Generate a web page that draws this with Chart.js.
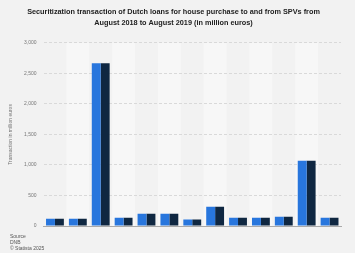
<!DOCTYPE html>
<html><head><meta charset="utf-8">
<script src="https://cdn.jsdelivr.net/npm/chart.js@4"></script>
<style>html,body{margin:0;padding:0;background:#f2f2f2;}#w{width:355px;height:253px;position:relative;}</style>
</head><body><div id="w"><canvas id="c"></canvas></div>
<script>
const categories = ["Aug 2018","Sep 2018","Oct 2018","Nov 2018","Dec 2018","Jan 2019","Feb 2019","Mar 2019","Apr 2019","May 2019","Jun 2019","Jul 2019","Aug 2019"];
const seriesA = [120, 120, 2665, 136, 200, 200, 108, 316, 136, 136, 152, 1070, 136];
const seriesB = [120, 120, 2665, 136, 200, 200, 108, 316, 136, 136, 152, 1070, 136];
const yTicks = [0, 500, 1000, 1500, 2000, 2500, 3000];
const titleLines = ["Securitization transaction of Dutch loans for house purchase to and from SPVs from", "August 2018 to August 2019 (in million euros)"];
const sourceLines = ["Source", "DNB", "\u00a9 Statista 2025"];

const bands = {
  id: 'bands',
  beforeDraw(chart) {
    const {ctx, chartArea: a} = chart;
    ctx.save();
    ctx.fillStyle = '#f2f2f2';
    ctx.fillRect(0, 0, chart.width, chart.height);
    const w = (a.right - a.left) / categories.length;
    ctx.fillStyle = '#f7f7f7';
    categories.forEach((c, i) => {
      if (i % 2 === 1) ctx.fillRect(a.left + i * w, a.top, w, a.bottom - a.top);
    });
    ctx.restore();
  },
  afterDraw(chart) {
    const ctx = chart.ctx;
    ctx.save();
    ctx.fillStyle = '#555';
    ctx.textBaseline = 'alphabetic';
    ctx.font = '5px "Liberation Sans"';
    ctx.fillText(sourceLines[0], 10, 238);
    ctx.fillText(sourceLines[1], 10, 244);
    ctx.fillText(sourceLines[2], 10, 250);
    ctx.restore();
  }
};

new Chart(document.getElementById('c'), {
  type: 'bar',
  data: {
    labels: categories,
    datasets: [
      {label: 'To SPVs', data: seriesA, backgroundColor: '#2876dd', categoryPercentage: 0.78, barPercentage: 1.0},
      {label: 'From SPVs', data: seriesB, backgroundColor: '#0f2741', categoryPercentage: 0.78, barPercentage: 1.0}
    ]
  },
  options: {
    responsive: true, maintainAspectRatio: false, animation: false, devicePixelRatio: 1,
    layout: {padding: {left: 6, right: 14, top: 0, bottom: 27}},
    plugins: {
      legend: {display: false}, tooltip: {enabled: false},
      title: {display: true, text: titleLines, color: '#222', font: {family: '"Liberation Sans"', size: 7.3, weight: 'bold', lineHeight: 1.5}, padding: {top: 7, bottom: 14}}
    },
    scales: {
      x: {grid: {display: false, drawTicks: false}, ticks: {display: false}, border: {display: true, color: '#aaa', width: 1}},
      y: {
        min: 0, max: 3000,
        afterBuildTicks(s) { s.ticks = yTicks.map(v => ({value: v})); },
        ticks: {color: '#777', font: {family: '"Liberation Sans"', size: 5}, padding: 7, callback: v => v.toLocaleString('en-US')},
        grid: {color: '#d9d9d9', drawTicks: false},
        border: {display: false, dash: [3, 2]},
        title: {display: true, text: 'Transaction in million euros', color: '#777', font: {family: '"Liberation Sans"', size: 5}, padding: {top: 2, bottom: 3}}
      }
    }
  },
  plugins: [bands]
});
</script></body></html>
